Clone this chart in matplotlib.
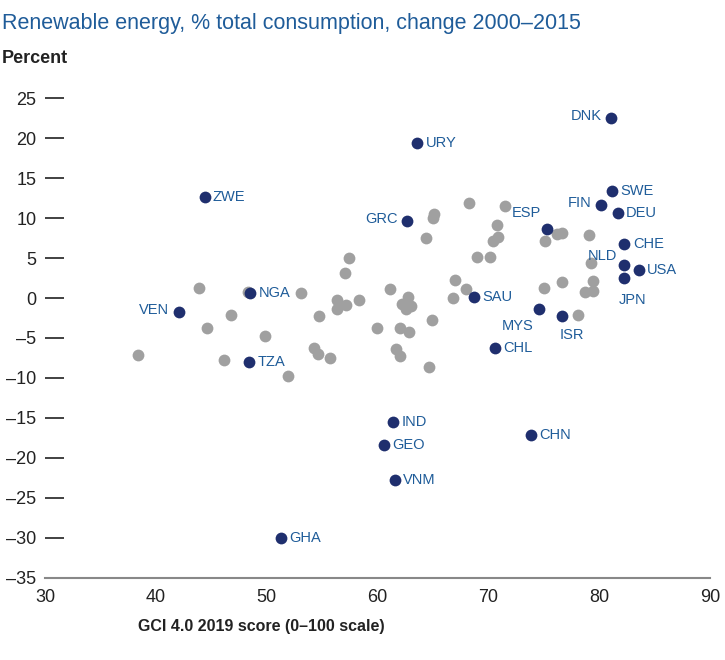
import matplotlib
matplotlib.use("Agg")
import matplotlib.pyplot as plt
plt.rcParams['font.family'] = ['Liberation Sans', 'DejaVu Sans']

gray_x = [38.4,43.9,44.6,46.8,46.2,48.3,49.9,51.9,53.1,54.3,54.6,54.7,55.7,56.4,56.4,57.1,57.4,57.2,58.3,
          60.0,61.1,62.2,63.0,62.8,62.6,62.9,62.0,61.7,62.0,64.7,64.9,64.4,65.0,65.1,67.0,66.8,68.0,68.3,
          69.0,70.2,70.4,70.9,70.8,71.5,75.0,75.1,76.2,76.7,76.7,78.1,78.7,79.5,79.5,79.3,79.1]
gray_y = [-7.1,1.3,-3.7,-2.1,-7.8,0.8,-4.7,-9.7,0.6,-6.2,-7.0,-2.3,-7.5,-0.2,-1.4,3.1,5.0,-0.9,-0.3,
          -3.8,1.1,-0.7,-1.0,0.1,-1.4,-4.3,-3.7,-6.4,-7.2,-8.6,-2.8,7.5,10.0,10.5,2.3,0.0,1.1,11.9,
          5.2,5.2,7.2,7.7,9.1,11.5,1.2,7.2,8.0,8.1,2.0,-2.1,0.7,0.9,2.1,4.4,7.9]

labels = ["DNK","URY","SWE","ZWE","FIN","DEU","GRC","ESP","CHE","NLD","USA","JPN","VEN","NGA",
          "SAU","MYS","ISR","CHL","TZA","IND","GEO","CHN","VNM","GHA"]
blue_x = [81.1,63.6,81.2,44.4,80.2,81.7,62.7,75.3,82.3,82.3,83.6,82.3,42.1,48.5,68.7,74.6,76.7,70.6,48.4,61.4,60.6,73.9,61.6,51.3]
blue_y = [22.6,19.4,13.4,12.6,11.7,10.7,9.7,8.6,6.8,4.2,3.5,2.5,-1.7,0.6,0.1,-1.4,-2.2,-6.3,-8.0,-15.5,-18.4,-17.1,-22.8,-30.1]

pos = {"DNK":(-7,1,"right","center"),"FIN":(-7,1,"right","center"),"GRC":(-7,1,"right","center"),
       "VEN":(-7,1,"right","center"),"NLD":(-5,6,"right","center"),"ESP":(-4,7,"right","bottom"),
       "MYS":(-4,-7,"right","top"),"ISR":(7,-9,"center","top"),"JPN":(-4,-11,"left","top")}

fig = plt.figure(figsize=(7.25,6.6), dpi=100)
ax = fig.add_axes([0.062, 0.125, 0.917, 0.75])
ax.scatter(gray_x, gray_y, s=72, color="#a0a0a0", zorder=2, linewidths=0)
ax.scatter(blue_x, blue_y, s=72, color="#1f2f6e", zorder=3, linewidths=0)
for l, x, y in zip(labels, blue_x, blue_y):
    dx, dy, ha, va = pos.get(l, (6, 0, "left", "center"))
    ax.annotate(l, (x, y), xytext=(dx, dy), textcoords="offset points", ha=ha, va=va,
                fontsize=10.5, color="#1f5c99")
ax.set_xlim(30, 90)
ax.set_ylim(-35, 27)
ax.set_xticks(range(30, 91, 10))
ax.set_yticks(range(-35, 26, 5))
ax.set_yticklabels([str(v).replace("-", "–") for v in range(-35, 26, 5)])
for s in ["top", "right", "left"]:
    ax.spines[s].set_visible(False)
ax.spines["bottom"].set_color("#888888")
ax.spines["bottom"].set_linewidth(1.5)
ax.tick_params(axis="x", length=0, labelsize=13, pad=8, colors="#222222")
ax.tick_params(axis="y", length=14, width=1.3, color="#333333", labelsize=13, pad=6,
               labelcolor="#222222", direction="in")
fig.text(0.003, 0.965, "Renewable energy, % total consumption, change 2000–2015", fontsize=15.5,
         color="#1f5c99", va="center")
fig.text(0.003, 0.912, "Percent", fontsize=13, fontweight="bold", color="#222222", va="center")
fig.text(0.36, 0.05, "GCI 4.0 2019 score (0–100 scale)", fontsize=11.5, fontweight="bold",
         color="#222222", ha="center", va="center")
fig.savefig("out.png", dpi=100)
